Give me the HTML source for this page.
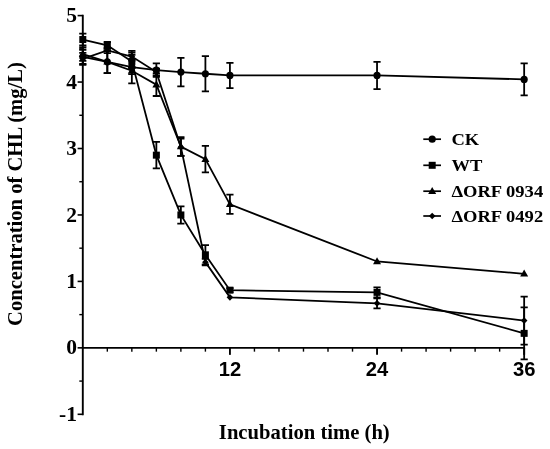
<!DOCTYPE html>
<html><head><meta charset="utf-8"><title>CHL degradation</title>
<style>html,body{margin:0;padding:0;background:#fff;}svg{display:block;}</style>
</head><body>
<svg width="550" height="449" viewBox="0 0 550 449">
<rect width="550" height="449" fill="#fff"/>
<g stroke="#000" stroke-width="1.9" fill="none">
<path d="M82.80 14.70V415.20"/>
<path d="M81.90 347.85H525.06"/>
<path d="M82.80 414.30h-5.2" stroke-width="1.6"/>
<path d="M82.80 347.85h-5.2" stroke-width="1.6"/>
<path d="M82.80 281.40h-5.2" stroke-width="1.6"/>
<path d="M82.80 214.95h-5.2" stroke-width="1.6"/>
<path d="M82.80 148.50h-5.2" stroke-width="1.6"/>
<path d="M82.80 82.05h-5.2" stroke-width="1.6"/>
<path d="M82.80 15.60h-5.2" stroke-width="1.6"/>
<path d="M82.80 381.08h-3.5" stroke-width="1.4"/>
<path d="M82.80 314.62h-3.5" stroke-width="1.4"/>
<path d="M82.80 248.18h-3.5" stroke-width="1.4"/>
<path d="M82.80 181.73h-3.5" stroke-width="1.4"/>
<path d="M82.80 115.28h-3.5" stroke-width="1.4"/>
<path d="M82.80 48.82h-3.5" stroke-width="1.4"/>
<path d="M107.32 347.85v3.8" stroke-width="1.4"/>
<path d="M131.84 347.85v3.8" stroke-width="1.4"/>
<path d="M156.36 347.85v3.8" stroke-width="1.4"/>
<path d="M180.88 347.85v3.8" stroke-width="1.4"/>
<path d="M205.40 347.85v3.8" stroke-width="1.4"/>
<path d="M229.92 347.85v7"/>
<path d="M254.44 347.85v3.8" stroke-width="1.4"/>
<path d="M278.96 347.85v3.8" stroke-width="1.4"/>
<path d="M303.48 347.85v3.8" stroke-width="1.4"/>
<path d="M328.00 347.85v3.8" stroke-width="1.4"/>
<path d="M352.52 347.85v3.8" stroke-width="1.4"/>
<path d="M377.04 347.85v7"/>
<path d="M401.56 347.85v3.8" stroke-width="1.4"/>
<path d="M426.08 347.85v3.8" stroke-width="1.4"/>
<path d="M450.60 347.85v3.8" stroke-width="1.4"/>
<path d="M475.12 347.85v3.8" stroke-width="1.4"/>
<path d="M499.64 347.85v3.8" stroke-width="1.4"/>
<path d="M524.16 347.85v7"/>
</g>
<g stroke="#000" stroke-width="1.80" fill="none" stroke-linejoin="miter">
<polyline points="82.80,56.80 107.32,61.78 131.84,67.10 156.36,70.09 180.88,72.08 205.40,73.74 229.92,75.41 377.04,75.41 524.16,79.39"/>
<path d="M82.80 49.82V63.78M79.20 49.82H86.40M79.20 63.78H86.40"/>
<path d="M107.32 50.49V73.08M103.72 50.49H110.92M103.72 73.08H110.92"/>
<path d="M131.84 50.82V83.38M128.24 50.82H135.44M128.24 83.38H135.44"/>
<path d="M156.36 63.44V76.73M152.76 63.44H159.96M152.76 76.73H159.96"/>
<path d="M180.88 57.80V86.37M177.28 57.80H184.48M177.28 86.37H184.48"/>
<path d="M205.40 56.13V91.35M201.80 56.13H209.00M201.80 91.35H209.00"/>
<path d="M229.92 62.78V88.03M226.32 62.78H233.52M226.32 88.03H233.52"/>
<path d="M377.04 61.78V89.03M373.44 61.78H380.64M373.44 89.03H380.64"/>
<path d="M524.16 63.44V95.34M520.56 63.44H527.76M520.56 95.34H527.76"/>
<polyline points="82.80,39.52 107.32,45.30 131.84,61.45 156.36,155.15 180.88,214.95 205.40,254.82 229.92,290.17 377.04,292.36 524.16,333.36"/>
<path d="M82.80 33.54V45.50M79.20 33.54H86.40M79.20 45.50H86.40"/>
<path d="M107.32 41.98V48.63M103.72 41.98H110.92M103.72 48.63H110.92"/>
<path d="M131.84 54.81V68.10M128.24 54.81H135.44M128.24 68.10H135.44"/>
<path d="M156.36 141.86V168.44M152.76 141.86H159.96M152.76 168.44H159.96"/>
<path d="M180.88 206.31V223.59M177.28 206.31H184.48M177.28 223.59H184.48"/>
<path d="M205.40 245.18V264.46M201.80 245.18H209.00M201.80 264.46H209.00"/>
<path d="M229.92 288.18V292.16M226.32 288.18H233.52M226.32 292.16H233.52"/>
<path d="M377.04 287.38V297.35M373.44 287.38H380.64M373.44 297.35H380.64"/>
<path d="M524.16 307.45V359.28M520.56 307.45H527.76M520.56 359.28H527.76"/>
<polyline points="82.80,54.14 107.32,61.78 131.84,70.75 156.36,84.71 180.88,146.51 205.40,159.13 229.92,204.32 377.04,261.47 524.16,273.82"/>
<path d="M82.80 47.50V60.79M79.20 47.50H86.40M79.20 60.79H86.40"/>
<path d="M107.32 50.49V73.08M103.72 50.49H110.92M103.72 73.08H110.92"/>
<path d="M131.84 67.43V74.08M128.24 67.43H135.44M128.24 74.08H135.44"/>
<path d="M156.36 73.41V96.00M152.76 73.41H159.96M152.76 96.00H159.96"/>
<path d="M180.88 137.20V155.81M177.28 137.20H184.48M177.28 155.81H184.48"/>
<path d="M205.40 145.84V172.42M201.80 145.84H209.00M201.80 172.42H209.00"/>
<path d="M229.92 194.68V213.95M226.32 194.68H233.52M226.32 213.95H233.52"/>
<polyline points="82.80,58.79 107.32,50.42 131.84,56.60 156.36,72.08 180.88,147.17 205.40,262.13 229.92,297.35 377.04,303.33 524.16,320.61"/>
<path d="M82.80 52.81V64.77M79.20 52.81H86.40M79.20 64.77H86.40"/>
<path d="M107.32 47.76V53.08M103.72 47.76H110.92M103.72 53.08H110.92"/>
<path d="M131.84 52.61V60.59M128.24 52.61H135.44M128.24 60.59H135.44"/>
<path d="M156.36 68.76V75.40M152.76 68.76H159.96M152.76 75.40H159.96"/>
<path d="M180.88 138.53V155.81M177.28 138.53H184.48M177.28 155.81H184.48"/>
<path d="M205.40 258.81V265.45M201.80 258.81H209.00M201.80 265.45H209.00"/>
<path d="M377.04 298.34V308.31M373.44 298.34H380.64M373.44 308.31H380.64"/>
<path d="M524.16 296.68V344.53M520.56 296.68H527.76M520.56 344.53H527.76"/>
</g>
<g fill="#000">
<circle cx="82.80" cy="56.80" r="3.6"/>
<circle cx="107.32" cy="61.78" r="3.6"/>
<circle cx="131.84" cy="67.10" r="3.6"/>
<circle cx="156.36" cy="70.09" r="3.6"/>
<circle cx="180.88" cy="72.08" r="3.6"/>
<circle cx="205.40" cy="73.74" r="3.6"/>
<circle cx="229.92" cy="75.41" r="3.6"/>
<circle cx="377.04" cy="75.41" r="3.6"/>
<circle cx="524.16" cy="79.39" r="3.6"/>
<rect x="79.30" y="36.02" width="7" height="7"/>
<rect x="103.82" y="41.80" width="7" height="7"/>
<rect x="128.34" y="57.95" width="7" height="7"/>
<rect x="152.86" y="151.65" width="7" height="7"/>
<rect x="177.38" y="211.45" width="7" height="7"/>
<rect x="201.90" y="251.32" width="7" height="7"/>
<rect x="226.42" y="286.67" width="7" height="7"/>
<rect x="373.54" y="288.86" width="7" height="7"/>
<rect x="520.66" y="329.86" width="7" height="7"/>
<path d="M82.80 49.94 L86.80 56.94 L78.80 56.94Z"/>
<path d="M107.32 57.58 L111.32 64.58 L103.32 64.58Z"/>
<path d="M131.84 66.55 L135.84 73.55 L127.84 73.55Z"/>
<path d="M156.36 80.51 L160.36 87.51 L152.36 87.51Z"/>
<path d="M180.88 142.31 L184.88 149.31 L176.88 149.31Z"/>
<path d="M205.40 154.93 L209.40 161.93 L201.40 161.93Z"/>
<path d="M229.92 200.12 L233.92 207.12 L225.92 207.12Z"/>
<path d="M377.04 257.27 L381.04 264.27 L373.04 264.27Z"/>
<path d="M524.16 269.62 L528.16 276.62 L520.16 276.62Z"/>
<path d="M82.80 55.49 L86.10 58.79 L82.80 62.09 L79.50 58.79Z"/>
<path d="M107.32 47.12 L110.62 50.42 L107.32 53.72 L104.02 50.42Z"/>
<path d="M131.84 53.30 L135.14 56.60 L131.84 59.90 L128.54 56.60Z"/>
<path d="M156.36 68.78 L159.66 72.08 L156.36 75.38 L153.06 72.08Z"/>
<path d="M180.88 143.87 L184.18 147.17 L180.88 150.47 L177.58 147.17Z"/>
<path d="M205.40 258.83 L208.70 262.13 L205.40 265.43 L202.10 262.13Z"/>
<path d="M229.92 294.05 L233.22 297.35 L229.92 300.65 L226.62 297.35Z"/>
<path d="M377.04 300.03 L380.34 303.33 L377.04 306.63 L373.74 303.33Z"/>
<path d="M524.16 317.31 L527.46 320.61 L524.16 323.91 L520.86 320.61Z"/>
</g>
<g stroke="#000" stroke-width="1.7">
<path d="M423.3 139.20H441"/>
<path d="M423.3 165.30H441"/>
<path d="M423.3 191.20H441"/>
<path d="M423.3 216.00H441"/>
</g><g fill="#000">
<circle cx="432.20" cy="139.20" r="3.6"/>
<rect x="428.70" y="161.80" width="7" height="7"/>
<path d="M432.20 187.00 L436.20 194.00 L428.20 194.00Z"/>
<path d="M432.20 212.70 L435.50 216.00 L432.20 219.30 L428.90 216.00Z"/>
</g>
<g font-family="'Liberation Serif', serif" font-weight="bold" fill="#000">
<text transform="translate(77.00 420.90)" font-size="21.5" text-anchor="end">-1</text>
<text transform="translate(77.00 354.45)" font-size="21.5" text-anchor="end">0</text>
<text transform="translate(77.00 288.00)" font-size="21.5" text-anchor="end">1</text>
<text transform="translate(77.00 221.55)" font-size="21.5" text-anchor="end">2</text>
<text transform="translate(77.00 155.10)" font-size="21.5" text-anchor="end">3</text>
<text transform="translate(77.00 88.65)" font-size="21.5" text-anchor="end">4</text>
<text transform="translate(77.00 22.20)" font-size="21.5" text-anchor="end">5</text>
<text transform="translate(21.9 194.1) rotate(-90)" font-size="20.6" text-anchor="middle">Concentration of CHL (mg/L)</text>
<text transform="translate(304.3 439.2) scale(1.035 1)" font-size="19.95" text-anchor="middle">Incubation time (h)</text>
<text transform="translate(451.4 144.80) scale(1.072 1)" font-size="17.3">CK</text>
<text transform="translate(451.4 170.60) scale(1.072 1)" font-size="17.3">WT</text>
<text transform="translate(451.4 197.10) scale(1.072 1)" font-size="17.3">ΔORF 0934</text>
<text transform="translate(451.4 221.50) scale(1.072 1)" font-size="17.3">ΔORF 0492</text>
</g>
<g font-family="'Liberation Sans', sans-serif" font-weight="bold" fill="#000" font-size="20.2" text-anchor="middle">
<text x="229.92" y="376.3">12</text>
<text x="377.04" y="376.3">24</text>
<text x="524.16" y="376.3">36</text>
</g>
</svg>
</body></html>
